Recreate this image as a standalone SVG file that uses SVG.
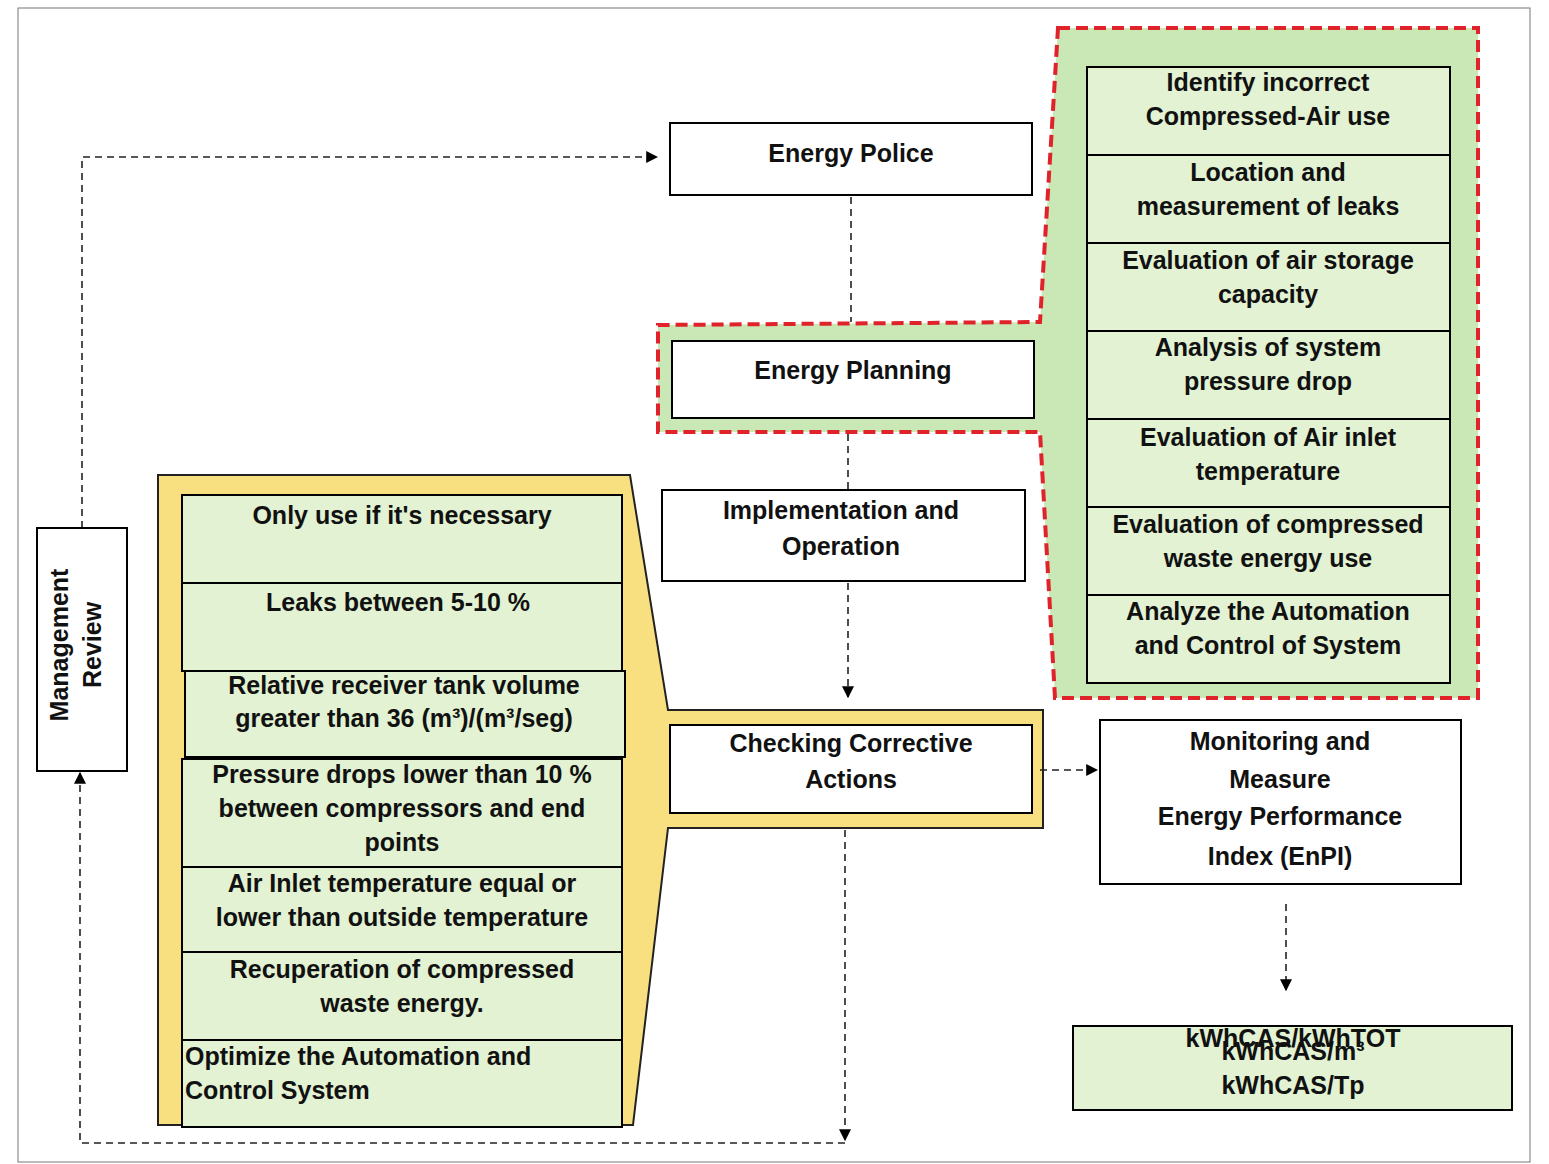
<svg xmlns="http://www.w3.org/2000/svg" width="1549" height="1164" viewBox="0 0 1549 1164">
<defs>
<marker id="ar" viewBox="0 0 10 10" refX="9" refY="5" markerWidth="12" markerHeight="12" markerUnits="userSpaceOnUse" orient="auto"><path d="M0,0L10,5L0,10z" fill="#000"/></marker>
<style>
text{font-family:"Liberation Sans",Arial,sans-serif;font-weight:bold;font-size:25px;fill:#111;text-anchor:middle}
.w{fill:#fff;stroke:#000;stroke-width:2}
.g{fill:#e2f2d2;stroke:#000;stroke-width:2}
.c{fill:none;stroke:#222;stroke-width:1.6;stroke-dasharray:7,5}
</style>
</defs>
<rect x="18" y="8" width="1512" height="1154" fill="#fff" stroke="#777" stroke-width="1"/>
<g id="regions">
<path d="M1058,28L1478,28L1478,698L1055,698L1040,432L658,432L658,325L1040,322Z" fill="#c9e8b5" stroke="#e0222a" stroke-width="4" stroke-dasharray="12,6"/>
<path d="M158,475L630,475L668,710L1043,710L1043,828L668,828L633,1125L158,1125Z" fill="#f8df80" stroke="#222" stroke-width="2"/>
</g>
<g id="connectors">
<path class="c" d="M82,528V157H657" marker-end="url(#ar)"/>
<path class="c" d="M851,197V322"/>
<path class="c" d="M848,434V490"/>
<path class="c" d="M848,583V697" marker-end="url(#ar)"/>
<path class="c" d="M1040,770H1097" marker-end="url(#ar)"/>
<path class="c" d="M1286,904V990" marker-end="url(#ar)"/>
<path class="c" d="M845,830V1140" marker-end="url(#ar)"/>
<path class="c" d="M845,1143H80V773" marker-end="url(#ar)"/>
</g>
<g id="mgmt"><rect class="w" x="37" y="528" width="90" height="243"/>
<text transform="translate(68,645) rotate(-90)">Management</text><text transform="translate(101,645) rotate(-90)">Review</text></g>
<g id="police"><rect class="w" x="670" y="123" width="362" height="72"/><text x="851" y="162">Energy Police</text></g>
<g id="planning"><rect class="w" x="672" y="341" width="362" height="77"/><text x="853" y="379">Energy Planning</text></g>
<g id="impl"><rect class="w" x="662" y="490" width="363" height="91"/><text x="841" y="519">Implementation and</text><text x="841" y="555">Operation</text></g>
<g id="check"><rect class="w" x="670" y="725" width="362" height="88"/><text x="851" y="752">Checking Corrective</text><text x="851" y="788">Actions</text></g>
<g id="monitor"><rect class="w" x="1100" y="720" width="361" height="164"/><text x="1280" y="750">Monitoring and</text><text x="1280" y="788">Measure</text><text x="1280" y="825">Energy Performance</text><text x="1280" y="865">Index (EnPI)</text></g>
<g id="kwh"><rect class="g" x="1073" y="1026" width="439" height="84"/><text x="1293" y="1024" dy="0.9em">kWhCAS/kWhTOT</text><text x="1293" y="1060">kWhCAS/m³</text><text x="1293" y="1094">kWhCAS/Tp</text></g>
<g id="planlist">
<rect class="g" x="1087" y="67" width="363" height="88"/><text x="1268" y="91">Identify incorrect</text><text x="1268" y="125">Compressed-Air use</text>
<rect class="g" x="1087" y="155" width="363" height="88"/><text x="1268" y="181">Location and</text><text x="1268" y="215">measurement of leaks</text>
<rect class="g" x="1087" y="243" width="363" height="88"/><text x="1268" y="269">Evaluation of air storage</text><text x="1268" y="303">capacity</text>
<rect class="g" x="1087" y="331" width="363" height="88"/><text x="1268" y="356">Analysis of system</text><text x="1268" y="390">pressure drop</text>
<rect class="g" x="1087" y="419" width="363" height="88"/><text x="1268" y="446">Evaluation of Air inlet</text><text x="1268" y="480">temperature</text>
<rect class="g" x="1087" y="507" width="363" height="88"/><text x="1268" y="533">Evaluation of compressed</text><text x="1268" y="567">waste energy use</text>
<rect class="g" x="1087" y="595" width="363" height="88"/><text x="1268" y="620">Analyze the Automation</text><text x="1268" y="654">and Control of System</text>
</g>
<g id="checklist">
<rect class="g" x="182" y="495" width="440" height="88"/><text x="402" y="524">Only use if it's necessary</text>
<rect class="g" x="182" y="583" width="440" height="88"/><text x="398" y="611">Leaks between 5-10 %</text>
<rect class="g" x="185" y="671" width="440" height="86"/><text x="404" y="694">Relative receiver tank volume</text><text x="404" y="727">greater than 36 (m³)/(m³/seg)</text>
<rect class="g" x="182" y="759" width="440" height="108"/><text x="402" y="783">Pressure drops lower than 10 %</text><text x="402" y="817">between compressors and end</text><text x="402" y="851">points</text>
<rect class="g" x="182" y="867" width="440" height="85"/><text x="402" y="892">Air Inlet temperature equal or</text><text x="402" y="926">lower than outside temperature</text>
<rect class="g" x="182" y="952" width="440" height="88"/><text x="402" y="978">Recuperation of compressed</text><text x="402" y="1012">waste energy.</text>
<rect class="g" x="182" y="1040" width="440" height="87"/><text x="185" y="1065" style="text-anchor:start">Optimize the Automation and</text><text x="185" y="1099" style="text-anchor:start">Control System</text>
</g>
</svg>
